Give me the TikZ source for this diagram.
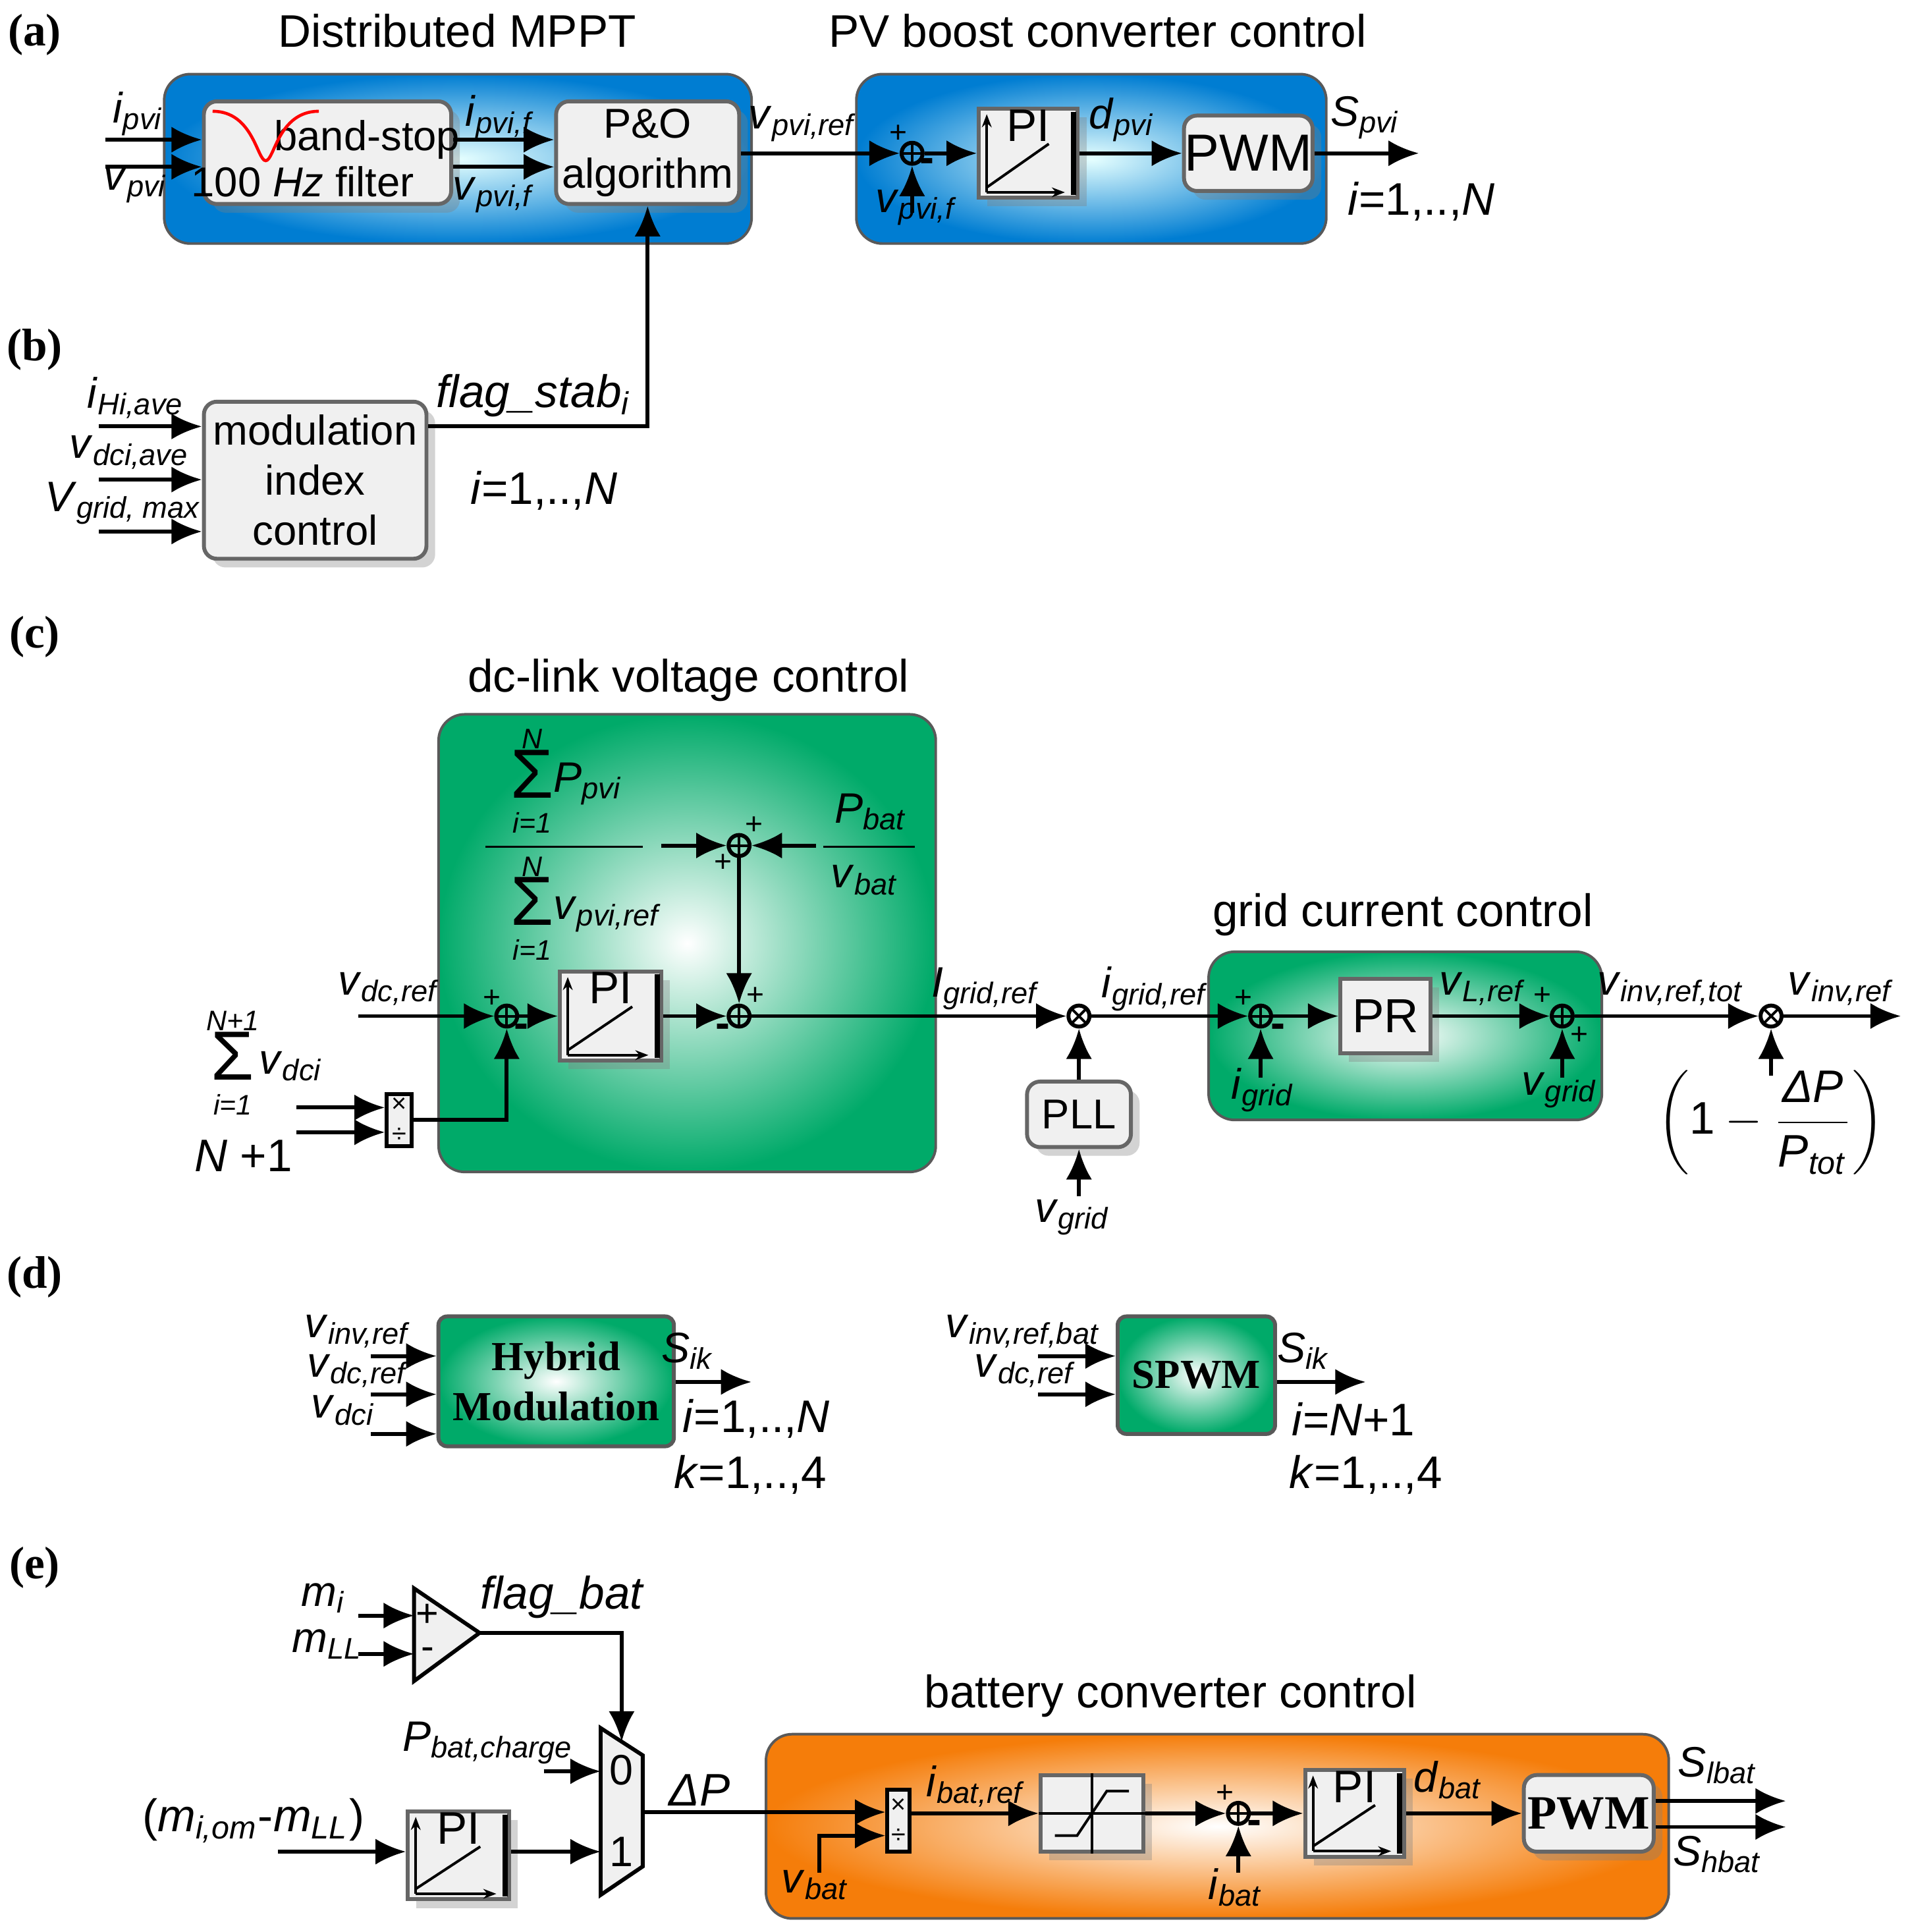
\documentclass[tikz,border=0pt]{standalone}
\usepackage{fontspec}
\setmainfont{Liberation Sans}
\newfontfamily\serifb{Liberation Serif}
\usetikzlibrary{arrows.meta,shadows,calc}
\newcommand\vs[2]{\textit{#1}\textsubscript{\textit{#2}}}
\newcommand\mysum[2]{\begin{tabular}{@{}c@{}}\fontsize{6.5}{7}\selectfont\textit{#2}\\[-3pt]{\fontsize{16}{16}\selectfont Σ}\\[-3pt]\fontsize{6.5}{7}\selectfont\textit{#1}\end{tabular}}
\definecolor{myblue}{RGB}{0,125,210}
\definecolor{mygreen}{RGB}{0,170,105}
\definecolor{myorange}{RGB}{245,125,10}
\begin{document}
\begin{tikzpicture}[x=0.01cm,y=-0.01cm,line width=0.9pt,
 >={Latex[length=7pt,width=6pt]},
 blk/.style={draw=gray!80!black,rounded corners=3pt,fill=gray!12,drop shadow={opacity=0.35,shadow xshift=2pt,shadow yshift=-2pt},align=center,font=\fontsize{9.6}{11.5}\selectfont,inner sep=0},
 pan/.style={draw=gray!70!black,rounded corners=6pt,line width=0.6pt},
 sm/.style={circle,draw,inner sep=0,minimum size=0.17cm,path picture={\draw[line width=0.6pt] (path picture bounding box.north)--(path picture bounding box.south) (path picture bounding box.west)--(path picture bounding box.east);}},
 ml/.style={circle,draw,inner sep=0,minimum size=0.17cm,path picture={\draw[line width=0.6pt] (path picture bounding box.north west)--(path picture bounding box.south east) (path picture bounding box.south west)--(path picture bounding box.north east);}},
 lab/.style={font=\fontsize{9.8}{11}\selectfont,inner sep=1pt},
 big/.style={font=\fontsize{10.5}{12.5}\selectfont,inner sep=1pt},
 ttl/.style={font=\fontsize{10.5}{12.5}\selectfont},
 sec/.style={font=\serifb\bfseries\fontsize{10.5}{12}\selectfont},
 pm/.style={font=\fontsize{7}{8}\selectfont,inner sep=0}]
\useasboundingbox (0,0) rectangle (1545,1563);
\newcommand\PIin[1]{%
 \draw[line width=0.6pt,->,>={Stealth[length=3pt]}] ($(#1.south west)+(8,-6)$)--($(#1.north west)+(8,6)$);
 \draw[line width=0.6pt,->,>={Stealth[length=3pt]}] ($(#1.south west)+(8,-6)$)--($(#1.south east)+(-12,-6)$);
 \draw[line width=0.6pt] ($(#1.south west)+(8,-10)$)--($(#1.north east)+(-25,30)$);
 \draw[line width=1.2pt] ($(#1.north east)+(-5,4)$)--($(#1.south east)+(-5,-4)$);
 \node[font=\fontsize{10.5}{12.5}\selectfont,inner sep=0] at ($(#1.north)+(0,15)$) {PI};}
% ---------- (a)
\node[sec] (la) at (28,28) {(a)};
\node[pan,inner color=cyan!10,outer color=myblue,minimum width=4.75cm,minimum height=1.37cm] (mppt) at (370.5,128.5) {};
\node[ttl] (tm) at (370,25) {Distributed MPPT};
\node[blk,minimum width=2cm,minimum height=0.83cm] (flt) at (265,123.5) {};
\node[font=\fontsize{9.6}{11}\selectfont] (f1) at (297,113) {band-stop};
\node[font=\fontsize{9.6}{11}\selectfont] (f2) at (245,147) {100 \textit{Hz} filter};
\draw[red,line width=0.7pt] (172,90) .. controls (205,90) and (208,130) .. (215,130) .. controls (222,130) and (225,90) .. (258,90);
\node[blk,minimum width=1.48cm,minimum height=0.83cm] (po) at (524,123.5) {P\&O\\algorithm};
\coordinate (ia) at (85,113); \coordinate (va) at (85,135);
\draw[->] (ia)--(flt.west|-ia); \draw[->] (va)--(flt.west|-va);
\node[lab] (lia) at (112,92) {\vs{i}{pvi}};
\node[lab] (lva) at (110,150) {\vs{v}{pvi}};
\draw[->] (flt.east|-ia)--(po.west|-ia); \draw[->] (flt.east|-va)--(po.west|-va);
\node[lab] (lif) at (405,95) {\vs{i}{pvi,f}};
\node[lab] (lvf) at (400,158) {\vs{v}{pvi,f}};
\node[pan,inner color=cyan!10,outer color=myblue,minimum width=3.8cm,minimum height=1.37cm] (pvb) at (883,128.5) {};
\node[ttl] (tp) at (888,25) {PV boost converter control};
\node[sm] (s1) at (738,124) {};
\draw[->] (po.east|-s1)--(s1);
\node[lab] (lvr) at (650,100) {\vs{v}{pvi,ref}};
\node[pm] at (727,108) {+}; \node[pm,font=\bfseries] at (750,134) {-};
\coordinate (vfb) at (738,172);
\draw[->] (vfb)--(s1);
\node[lab] (lvfb) at (742,168) {\vs{v}{pvi,f}};
\node[blk,rounded corners=0,minimum width=0.8cm,minimum height=0.72cm] (pi1) at (832,124) {};
\PIin{pi1}
\draw[->] (s1)--(pi1);
\node[blk,minimum width=1.04cm,minimum height=0.61cm,font=\fontsize{12}{14}\selectfont] (pwm1) at (1010,124) {PWM};
\draw[->] (pi1)--(pwm1);
\node[lab] (ld) at (908,97) {\vs{d}{pvi}};
\coordinate (so) at (1148,124);
\draw[->] (pwm1)--(so);
\node[lab] (lsp) at (1105,95) {\vs{S}{pvi}};
\node[big] (ln1) at (1150,163) {\textit{i}=1,..,\textit{N}};
% ---------- (b)
\node[sec] (lb) at (28,283) {(b)};
\node[blk,minimum width=1.8cm,minimum height=1.27cm] (mic) at (255,388.5) {modulation\\index\\control};
\foreach \yy/\nm in {345/b1,388/b2,430/b3}{\coordinate (\nm) at (80,\yy); \draw[->] (\nm)--(mic.west|-\nm);}
\node[lab] (lb1) at (110,322) {\vs{i}{Hi,ave}};
\node[lab] (lb2) at (105,366) {\vs{v}{dci,ave}};
\node[lab] (lb3) at (100,407) {\vs{V}{grid, max}};
\coordinate (fc) at (524,345);
\draw[->] (mic.east|-fc)--(fc)--(po.south);
\node[big] (lfs) at (432,320) {\vs{flag\_stab}{i}};
\node[big] (ln2) at (440,397) {\textit{i}=1,..,\textit{N}};
% ---------- (c)
\node[sec] (lc) at (28,515) {(c)};
\node[pan,inner color=white,outer color=mygreen,minimum width=4.02cm,minimum height=3.7cm] (dcl) at (556,763) {};
\node[ttl] (td) at (557,550) {dc-link voltage control};
\node[lab,anchor=west] (fr1) at (408,632) {\mysum{i=1}{N}\vs{P}{pvi}};
\draw[line width=0.5pt] (393,685)--(520,685);
\node[lab,anchor=west] (fr2) at (408,735) {\mysum{i=1}{N}\vs{v}{pvi,ref}};
\node[sm] (s2) at (598,684) {};
\coordinate (s2l) at (535,684); \coordinate (s2r) at (660,684);
\draw[->] (s2l)--(s2); \draw[->] (s2r)--(s2);
\node[pm] at (610,668) {+}; \node[pm] at (585,698) {+};
\node[lab] (lpb) at (705,657) {\vs{P}{bat}};
\draw[line width=0.5pt] (666,685)--(740,685);
\node[lab] (lvb) at (700,712) {\vs{v}{bat}};
\node[sm] (s3) at (598,822) {};
\draw[->] (s2)--(s3);
\node[pm] at (611,806) {+}; \node[pm,font=\bfseries] at (585,834) {-};
\node[sm] (s4) at (410,822) {};
\coordinate (vdr) at (290,822);
\draw[->] (vdr)--(s4);
\node[lab] (lvdr) at (315,800) {\vs{v}{dc,ref}};
\node[pm] at (398,808) {+}; \node[pm,font=\bfseries] at (422,834) {-};
\node[blk,rounded corners=0,minimum width=0.82cm,minimum height=0.72cm] (pi2) at (494,822) {};
\PIin{pi2}
\draw[->] (s4)--(pi2); \draw[->] (pi2)--(s3);
\node[ml] (m1) at (873,822) {};
\draw[->] (s3)--(m1);
\node[lab] (lig) at (798,800) {\vs{I}{grid,ref}};
\node[draw,fill=gray!12,minimum width=0.2cm,minimum height=0.42cm,inner sep=0,font=\fontsize{6}{7}\selectfont,align=center] (dv1) at (323,906) {×\\÷};
\coordinate (dva) at (240,896); \coordinate (dvb) at (240,916);
\draw[->] (dva)--(dv1.west|-dva); \draw[->] (dvb)--(dv1.west|-dvb);
\coordinate (dvo) at (410,906);
\draw[->] (dv1.east)--(dvo)--(s4);
\node[lab,anchor=west] (lsd) at (162,860) {\mysum{i=1}{N+1}\vs{v}{dci}};
\node[big] (lnp) at (197,935) {\textit{N} +1};
\node[blk,minimum width=0.84cm,minimum height=0.53cm] (pll) at (873,901.5) {PLL};
\coordinate (vg) at (873,968);
\draw[->] (vg)--(pll); \draw[->] (pll)--(m1);
\node[lab] (lvg) at (868,985) {\vs{v}{grid}};
\node[pan,inner color=white,outer color=mygreen,minimum width=3.18cm,minimum height=1.36cm] (gcc) at (1137,838) {};
\node[ttl] (tg) at (1135,740) {grid current control};
\node[sm] (s5) at (1020,822) {};
\draw[->] (m1)--(s5);
\node[lab] (ligr) at (935,800) {\vs{i}{grid,ref}};
\coordinate (igb) at (1020,872);
\draw[->] (igb)--(s5);
\node[lab] (ligb) at (1022,882) {\vs{i}{grid}};
\node[pm] at (1006,808) {+}; \node[pm,font=\bfseries] at (1034,834) {-};
\node[blk,rounded corners=0,minimum width=0.73cm,minimum height=0.6cm,font=\fontsize{11}{13}\selectfont] (pr) at (1121,822) {PR};
\draw[->] (s5)--(pr);
\node[sm] (s6) at (1264,822) {};
\draw[->] (pr)--(s6);
\node[lab] (lvl) at (1200,800) {\vs{v}{L,ref}};
\node[pm] at (1248,806) {+}; \node[pm] at (1278,838) {+};
\coordinate (vgb) at (1264,872);
\draw[->] (vgb)--(s6);
\node[lab] (lvgb) at (1262,882) {\vs{v}{grid}};
\node[ml] (m2) at (1433,822) {};
\draw[->] (s6)--(m2);
\node[lab] (lvit) at (1352,800) {\vs{v}{inv,ref,tot}};
\coordinate (vio) at (1538,822);
\draw[->] (m2)--(vio);
\node[lab] (lvi) at (1490,800) {\vs{v}{inv,ref}};
\coordinate (dpb) at (1433,870);
\draw[->] (dpb)--(m2);
\node[big] (ldp) at (1433,908) {$\left(\textrm{1}-\displaystyle\frac{\textrm{\textit{ΔP}}}{\textrm{\vs{P}{tot}}}\right)$};
% ---------- (d)
\node[sec] (ld) at (28,1033) {(d)};
\node[draw=gray!70!black,rounded corners=2pt,inner color=white,outer color=mygreen,minimum width=1.68cm,minimum height=1.05cm,align=center,font=\serifb\bfseries\fontsize{9.5}{11.5}\selectfont] (hyb) at (450,1117.5) {Hybrid\\Modulation};
\foreach \yy/\nm in {1097/d1,1128/d2,1160/d3}{\coordinate (\nm) at (300,\yy); \draw[->] (\nm)--(hyb.west|-\nm);}
\node[lab] (ld1) at (290,1077) {\vs{v}{inv,ref}};
\node[lab] (ld2) at (290,1109) {\vs{v}{dc,ref}};
\node[lab] (ld3) at (278,1141) {\vs{v}{dci}};
\coordinate (ho) at (608,1118);
\draw[->] (hyb.east|-ho)--(ho);
\node[lab] (lsi) at (557,1093) {\vs{S}{ik}};
\node[big] (ln3) at (612,1148) {\textit{i}=1,..,\textit{N}};
\node[big] (lk1) at (607,1193) {\textit{k}=1,..,4};
\node[draw=gray!70!black,rounded corners=2pt,inner color=white,outer color=mygreen,minimum width=1.26cm,minimum height=0.95cm,font=\serifb\bfseries\fontsize{9.5}{11.5}\selectfont] (spw) at (968,1112.5) {SPWM};
\foreach \yy/\nm in {1097/e1,1128/e2}{\coordinate (\nm) at (840,\yy); \draw[->] (\nm)--(spw.west|-\nm);}
\node[lab] (le1) at (828,1077) {\vs{v}{inv,ref,bat}};
\node[lab] (le2) at (830,1109) {\vs{v}{dc,ref}};
\coordinate (spo) at (1105,1118);
\draw[->] (spw.east|-spo)--(spo);
\node[lab] (lsi2) at (1055,1093) {\vs{S}{ik}};
\node[big] (ln4) at (1095,1148) {\textit{i}=\textit{N}+1};
\node[big] (lk2) at (1105,1193) {\textit{k}=1,..,4};
% ---------- (e)
\node[sec] (le) at (28,1268) {(e)};
\draw[fill=gray!12] (335,1285) coordinate (ct1) -- (388,1321) coordinate (cmp) -- (335,1360) coordinate (ct2) -- cycle;
\node[pm,font=\fontsize{9}{10}\selectfont] at (346,1307) {+};
\node[pm,font=\fontsize{9}{10}\selectfont] at (346,1338) {-};
\coordinate (mi) at (290,1307); \coordinate (mll) at (290,1338);
\draw[->] (mi)--(335,1307); \draw[->] (mll)--(335,1338);
\node[lab] (lmi) at (262,1293) {\vs{m}{i}};
\node[lab] (lmll) at (265,1330) {\vs{m}{LL}};
\node[big] (lfb) at (455,1292) {\textit{flag\_bat}};
\draw[fill=gray!12] (486,1398) coordinate (mx1) -- (520,1420) -- (520,1510) -- (486,1533) -- cycle;
\coordinate (mxt) at (503,1409); \coordinate (fbc) at (503,1321);
\draw[->] (cmp)--(fbc)--(mxt);
\node[lab] (l0) at (503,1432) {0}; \node[lab] (l1) at (503,1498) {1};
\coordinate (pbc) at (440,1433);
\draw[->] (pbc)--(486,1433);
\node[lab] (lpbc) at (395,1410) {\vs{P}{bat,charge}};
\node[blk,rounded corners=0,minimum width=0.82cm,minimum height=0.71cm] (pi3) at (371,1501) {};
\PIin{pi3}
\coordinate (min) at (225,1498);
\draw[->] (min)--(pi3.west|-min);
\node[big] (lmin) at (205,1473) {(\vs{m}{i,om}-\vs{m}{LL})};
\draw[->] (pi3.east|-min)--(486,1498);
\node[pan,inner color=white,outer color=myorange,minimum width=7.3cm,minimum height=1.49cm] (bcc) at (985,1477.5) {};
\node[ttl] (tb) at (947,1372) {battery converter control};
\node[draw,fill=gray!12,minimum width=0.18cm,minimum height=0.5cm,inner sep=0,font=\fontsize{6}{7}\selectfont,align=center] (dv2) at (727,1473) {×\\÷};
\coordinate (mxo) at (520,1466);
\draw[->] (mxo)--(dv2.west|-mxo);
\node[big] (ldP) at (566,1448) {\textit{ΔP}};
\coordinate (vb0) at (663,1515); \coordinate (vb1) at (663,1485);
\draw[->] (vb0)--(vb1)--(dv2.west|-vb1);
\node[lab] (lvb2) at (660,1525) {\vs{v}{bat}};
\node[blk,rounded corners=0,minimum width=0.83cm,minimum height=0.62cm] (sat) at (883.5,1467) {};
\draw[line width=0.5pt] (sat.west)--(sat.east) (sat.north)--(sat.south);
\draw[line width=0.6pt] ($(sat.center)+(-30,18)$)--($(sat.center)+(-12,18)$)--($(sat.center)+(12,-18)$)--($(sat.center)+(30,-18)$);
\draw[->] (dv2.east|-sat)--(sat);
\node[lab] (libr) at (790,1445) {\vs{i}{bat,ref}};
\node[sm] (s7) at (1002,1467) {};
\draw[->] (sat)--(s7);
\node[pm] at (991,1451) {+}; \node[pm,font=\bfseries] at (1015,1478) {-};
\coordinate (ibb) at (1002,1515);
\draw[->] (ibb)--(s7);
\node[lab] (libb) at (1000,1527) {\vs{i}{bat}};
\node[blk,rounded corners=0,minimum width=0.8cm,minimum height=0.7cm] (pi4) at (1096,1467) {};
\PIin{pi4}
\draw[->] (s7)--(pi4);
\node[blk,minimum width=1.05cm,minimum height=0.62cm,font=\serifb\bfseries\fontsize{11}{13}\selectfont] (pwm2) at (1285.5,1467) {PWM};
\draw[->] (pi4)--(pwm2);
\node[lab] (ldb) at (1172,1440) {\vs{d}{bat}};
\coordinate (so1) at (1445,1457); \coordinate (so2) at (1445,1478);
\draw[->] (pwm2.east|-so1)--(so1); \draw[->] (pwm2.east|-so2)--(so2);
\node[lab] (lsl) at (1390,1428) {\vs{S}{lbat}};
\node[lab] (lsh) at (1390,1500) {\vs{S}{hbat}};
\end{tikzpicture}
\end{document}
